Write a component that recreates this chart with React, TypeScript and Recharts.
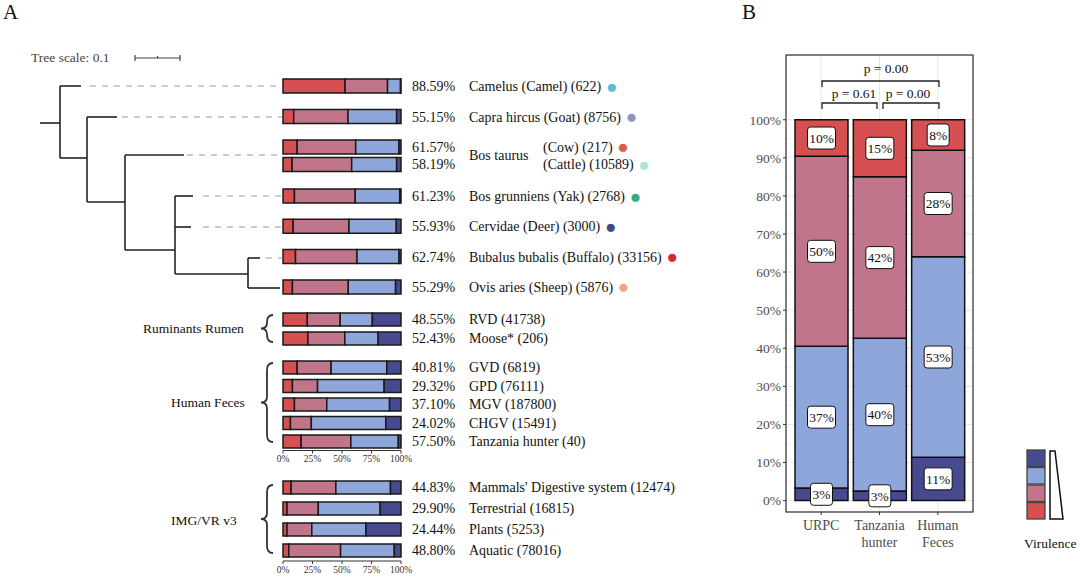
import React from 'react';
import { BarChart, Bar, XAxis, YAxis, CartesianGrid, LabelList } from 'recharts';

const FONT = '"Liberation Serif", "Times New Roman", serif';
// red, pink, light blue, dark blue (most -> least virulent)
const SEG_COLORS = ['#d64f51', '#c0758b', '#8fa6da', '#474a8e'];
const SEG_KEYS = ['red', 'pink', 'light', 'dark'];

// ---- panel A: rows (segment shares in %) ----
const topNames = ['Camelus (Camel) (622)', 'Capra hircus (Goat) (8756)'];
const topPct = ['88.59%', '55.15%'];
const topDots = ['#5bbcd6', '#8d95c0'];
const topSegs = [[52.6, 36.0, 11.0, 0.4], [9.1, 46.0, 41.2, 3.7]];

const bosNames = ['(Cow) (217)', '(Cattle) (10589)'];
const bosPct = ['61.57%', '58.19%'];
const bosDots = ['#e05a4a', '#a8e6d8'];
const bosSegs = [[12.0, 49.6, 36.7, 1.7], [7.7, 50.5, 38.1, 3.7]];

const lowNames = ['Bos grunniens (Yak) (2768)', 'Cervidae (Deer) (3000)', 'Bubalus bubalis (Buffalo) (33156)', 'Ovis aries (Sheep) (5876)'];
const lowPct = ['61.23%', '55.93%', '62.74%', '55.29%'];
const lowDots = ['#3aa88c', '#3c4a8a', '#d42a2a', '#f4a28c'];
const lowSegs = [[9.7, 51.5, 37.7, 1.1], [8.6, 47.3, 40.1, 4.0], [10.6, 52.1, 35.6, 1.7], [8.0, 47.3, 40.1, 4.6]];

const rumenNames = ['RVD (41738)', 'Moose* (206)'];
const rumenPct = ['48.55%', '52.43%'];
const rumenSegs = [[20.6, 27.9, 27.2, 24.3], [21.1, 31.3, 28.2, 19.4]];

const fecesNames = ['GVD (6819)', 'GPD (76111)', 'MGV (187800)', 'CHGV (15491)', 'Tanzania hunter (40)'];
const fecesPct = ['40.81%', '29.32%', '37.10%', '24.02%', '57.50%'];
const fecesSegs = [[12.0, 28.8, 47.2, 12.0], [8.0, 21.3, 56.4, 14.3], [9.7, 27.4, 53.2, 9.7], [6.3, 17.7, 63.1, 12.9], [15.4, 42.1, 40.2, 2.3]];

const imgNames = ["Mammals' Digestive system (12474)", 'Terrestrial (16815)', 'Plants (5253)', 'Aquatic (78016)'];
const imgPct = ['44.83%', '29.90%', '24.44%', '48.80%'];
const imgSegs = [[6.9, 37.9, 46.3, 8.9], [3.4, 26.5, 52.4, 17.7], [3.4, 21.0, 45.9, 29.7], [4.9, 43.9, 45.5, 5.7]];

const pctTicks = [0, 25, 50, 75, 100];

// ---- panel B ----
const groups = ['URPC', 'Tanzania hunter', 'Human Feces'];
const darkB = [3.3, 2.5, 11.4];
const lightB = [37.2, 40.1, 52.6];
const pinkB = [49.9, 42.4, 28.0];
const redB = [9.6, 15.0, 8.0];
const yTicksB = [0, 10, 20, 30, 40, 50, 60, 70, 80, 90, 100];
const minorB = [5, 15, 25, 35, 45, 55, 65, 75, 85, 95];

const A_LEFT = 14; // room on the left of the row charts for the "0%" tick label
const A_PAD = 8; // vertical room so the label dots stay inside each svg

function RowTick(props: any) {
  const { x, y, payload, rows, nameDx } = props;
  const r = rows.find((d: any) => d.name === payload.value);
  if (!r) return null;
  return (
    <g fontFamily={FONT} fontSize={14} fill="#111">
      <text x={x + 11} y={y} dy="0.35em">{r.pct}</text>
      <text x={x + nameDx} y={y} dy="0.35em">
        {r.name}
        {r.dot ? <tspan fill={r.dot} fontSize={19} dy="0.08em"> ●</tspan> : null}
      </text>
    </g>
  );
}

function RowGroup({ names, pct, segs, dots, top, step, bar, axis, nameDx = 68 }: any) {
  const rows = names.map((n: string, i: number) => ({
    name: n,
    pct: pct[i],
    dot: dots ? dots[i] : null,
    red: segs[i][0],
    pink: segs[i][1],
    light: segs[i][2],
    dark: segs[i][3],
  }));
  const axisH = axis ? 22 : 0;
  return (
    <div style={{ position: 'absolute', left: 283 - A_LEFT, top: top - A_PAD }}>
      <BarChart width={A_LEFT + 118 + 300} height={names.length * step + axisH + A_PAD * 2} data={rows} layout="vertical"
        margin={{ top: A_PAD, right: 0, bottom: A_PAD, left: A_LEFT }} barSize={bar}>
        <XAxis type="number" domain={[0, 100]} ticks={pctTicks} hide={!axis} interval={0}
          tickFormatter={(v: number) => v + '%'} height={axisH || 1}
          tick={{ fontSize: 9.5, fontFamily: FONT, fill: '#333' }} tickSize={3} tickMargin={2}
          stroke="#333" />
        <YAxis type="category" dataKey="name" orientation="right" width={300} interval={0}
          axisLine={false} tickLine={false} tickSize={0} tickMargin={0}
          tick={(p: any) => <RowTick {...p} rows={rows} nameDx={nameDx} />} />
        {SEG_KEYS.map((k, i) => (
          <Bar key={k} dataKey={k} stackId="s" fill={SEG_COLORS[i]} stroke="#1a1a1a"
            strokeWidth={1.5} isAnimationActive={false} />
        ))}
      </BarChart>
    </div>
  );
}

function BoxLabel(props: any) {
  const { x, y, width, height, value } = props;
  const v = Array.isArray(value) ? value[1] - value[0] : value;
  const txt = Math.round(v) + '%';
  const w = txt.length > 2 ? 28 : 22;
  const cx = x + width / 2;
  const cy = y + height / 2;
  return (
    <g>
      <rect x={cx - w / 2} y={cy - 11} width={w} height={22} rx={3} fill="#fff" stroke="#111" strokeWidth={1} />
      <text x={cx} y={cy} dy="0.35em" textAnchor="middle" fontFamily={FONT} fontSize={13.5} fill="#111">{txt}</text>
    </g>
  );
}

function GroupTick(props: any) {
  const { x, y, payload } = props;
  const words = String(payload.value).split(' ');
  return (
    <text x={x} y={y} textAnchor="middle" fontFamily={FONT} fontSize={14} fill="#4d4d4d">
      {words.map((w, i) => (
        <tspan key={i} x={x} dy={i === 0 ? '0.71em' : 17}>{w}</tspan>
      ))}
    </text>
  );
}

function scaleOf(axis: any, v: number) {
  const s = axis && axis.scale;
  if (!s) return null;
  if (typeof s === 'function') return s(v);
  if (typeof s.map === 'function') return s.map(v);
  return null;
}

function PanelB() {
  const data = groups.map((g, i) => ({ g, dark: darkB[i], light: lightB[i], pink: pinkB[i], red: redB[i] }));
  const order = ['dark', 'light', 'pink', 'red'];
  const colorOf: Record<string, string> = { red: SEG_COLORS[0], pink: SEG_COLORS[1], light: SEG_COLORS[2], dark: SEG_COLORS[3] };
  return (
    <div style={{ position: 'absolute', left: 740, top: 40 }}>
      <BarChart width={240} height={520} data={data} margin={{ top: 15, right: 7, bottom: 0, left: 0 }} barSize={53}>
        <CartesianGrid stroke="#f3f3f3" vertical={false}
          horizontalCoordinatesGenerator={({ yAxis }: any) =>
            minorB.map((m) => scaleOf(yAxis, m)).filter((v: any) => v != null)} />
        <CartesianGrid stroke="#e6e6e6" />
        <XAxis dataKey="g" type="category" padding={{ left: 6, right: 6 }} height={48}
          axisLine={false} tickSize={3} tickMargin={5} tickLine={{ stroke: '#333' }}
          interval={0} tick={(p: any) => <GroupTick {...p} />} />
        <YAxis type="number" domain={[-3, 117]} ticks={yTicksB} width={46} allowDataOverflow
          axisLine={false} tickSize={3} tickMargin={2} tickLine={{ stroke: '#333' }}
          tickFormatter={(v: number) => v + '%'}
          tick={{ fontSize: 13.5, fontFamily: FONT, fill: '#4d4d4d' }} />
        {order.map((k) => (
          <Bar key={k} dataKey={k} stackId="b" fill={colorOf[k]} stroke="#111" strokeWidth={1.5}
            isAnimationActive={false}>
            <LabelList dataKey={k} content={(p: any) => <BoxLabel {...p} />} />
          </Bar>
        ))}
      </BarChart>
    </div>
  );
}

function brace(x: number, y1: number, y2: number) {
  const ym = (y1 + y2) / 2;
  const xm = x - 6;
  const tip = x - 12;
  return `M ${x} ${y1} Q ${xm} ${y1} ${xm} ${y1 + 7} L ${xm} ${ym - 6} Q ${xm} ${ym} ${tip} ${ym} Q ${xm} ${ym} ${xm} ${ym + 6} L ${xm} ${y2 - 7} Q ${xm} ${y2} ${x} ${y2}`;
}

function Overlay() {
  const dash = { stroke: '#bdbdbd', strokeWidth: 1.3, strokeDasharray: '6 6' };
  const br = { stroke: '#222', strokeWidth: 1.3, fill: 'none' };
  return (
    <svg width={1080} height={577} style={{ position: 'absolute', left: 0, top: 0, pointerEvents: 'none' }}>
      <g fontFamily={FONT}>
        <text x={3} y={19} fontSize={21} fill="#111">A</text>
        <text x={742} y={19} fontSize={21} fill="#111">B</text>

        {/* tree scale */}
        <text x={31} y={62} fontSize={13.5} fill="#444">Tree scale: 0.1</text>
        <g stroke="#444" strokeWidth={1.2}>
          <line x1={135} y1={58} x2={180} y2={58} />
          <line x1={135} y1={55} x2={135} y2={61} />
          <line x1={180} y1={55} x2={180} y2={61} />
          <line x1={157.5} y1={56} x2={157.5} y2={58} />
        </g>

        {/* tree */}
        <g stroke="#222" strokeWidth={1.6} fill="none">
          <line x1={40} y1={123} x2={60} y2={123} />
          <line x1={60} y1={86} x2={60} y2={158} />
          <line x1={60} y1={86} x2={81} y2={86} />
          <line x1={60} y1={158} x2={87} y2={158} />
          <line x1={87} y1={117} x2={87} y2={202} />
          <line x1={87} y1={117} x2={117} y2={117} />
          <line x1={87} y1={202} x2={125} y2={202} />
          <line x1={125} y1={155} x2={125} y2={250} />
          <line x1={125} y1={155} x2={184} y2={155} />
          <line x1={125} y1={250} x2={175} y2={250} />
          <line x1={175} y1={196} x2={175} y2={274} />
          <line x1={175} y1={196} x2={193} y2={196} />
          <line x1={175} y1={227} x2={191} y2={227} />
          <line x1={175} y1={274} x2={248} y2={274} />
          <line x1={248} y1={258} x2={248} y2={288} />
          <line x1={248} y1={258} x2={260} y2={258} />
          <line x1={248} y1={288} x2={280} y2={288} />
        </g>
        <g {...dash}>
          <line x1={90} y1={86} x2={282} y2={86} />
          <line x1={122} y1={117} x2={282} y2={117} />
          <line x1={187} y1={155} x2={282} y2={155} />
          <line x1={203} y1={196} x2={282} y2={196} />
          <line x1={203} y1={227} x2={282} y2={227} />
          <line x1={266} y1={258} x2={282} y2={258} />
        </g>
        <text x={469} y={155} dy="0.35em" fontSize={14} fill="#111">Bos taurus</text>

        {/* group braces */}
        <path d={brace(273, 315, 342)} stroke="#333" strokeWidth={1.8} fill="none" />
        <path d={brace(273, 363, 442)} stroke="#333" strokeWidth={1.8} fill="none" />
        <path d={brace(273, 485, 553)} stroke="#333" strokeWidth={1.8} fill="none" />
        <text x={143} y={328} dy="0.35em" fontSize={13.5} fill="#111">Ruminants Rumen</text>
        <text x={171} y={402} dy="0.35em" fontSize={13.5} fill="#111">Human Feces</text>
        <text x={171} y={520} dy="0.35em" fontSize={13.5} fill="#111">IMG/VR v3</text>

        {/* panel B border and p-values */}
        <rect x={786} y={55} width={187} height={457} fill="none" stroke="#333" strokeWidth={1.2} />
        <path d="M 822 109 L 822 103 L 877 103 L 877 109" {...br} />
        <path d="M 883 109 L 883 103 L 939 103 L 939 109" {...br} />
        <path d="M 822 87 L 822 81 L 939 81 L 939 87" {...br} />
        <text x={854} y={93} dy="0.35em" textAnchor="middle" fontSize={13.5} fill="#111">p = 0.61</text>
        <text x={908} y={93} dy="0.35em" textAnchor="middle" fontSize={13.5} fill="#111">p = 0.00</text>
        <text x={886} y={68} dy="0.35em" textAnchor="middle" fontSize={13.5} fill="#111">p = 0.00</text>

        {/* legend */}
        {[SEG_COLORS[3], SEG_COLORS[2], SEG_COLORS[1], SEG_COLORS[0]].map((c, i) => (
          <rect key={c} x={1027} y={450 + i * 17.5} width={18} height={16.5} fill={c} stroke="#444" strokeWidth={1.3} />
        ))}
        <polygon points="1050,451 1055,451 1063,519 1050,519" fill="#fff" stroke="#111" strokeWidth={1.5} />
        <text x={1024} y={543} dy="0.35em" fontSize={13.5} fill="#111">Virulence</text>
      </g>
    </svg>
  );
}

export default function App() {
  return (
    <div style={{ position: 'absolute', left: 0, top: 0, width: 1080, height: 577, background: '#fff', overflow: 'hidden' }}>
      <RowGroup names={topNames} pct={topPct} dots={topDots} segs={topSegs} top={71.25} step={30.5} bar={14} />
      <RowGroup names={bosNames} pct={bosPct} dots={bosDots} segs={bosSegs} top={137.75} step={17.5} bar={14} nameDx={142} />
      <RowGroup names={lowNames} pct={lowPct} dots={lowDots} segs={lowSegs} top={181.35} step={30.3} bar={14} />
      <RowGroup names={rumenNames} pct={rumenPct} segs={rumenSegs} top={309.5} step={19} bar={13} />
      <RowGroup names={fecesNames} pct={fecesPct} segs={fecesSegs} top={357.75} step={18.5} bar={13} axis />
      <RowGroup names={imgNames} pct={imgPct} segs={imgSegs} top={476.5} step={21} bar={13} axis />
      <PanelB />
      <Overlay />
    </div>
  );
}
